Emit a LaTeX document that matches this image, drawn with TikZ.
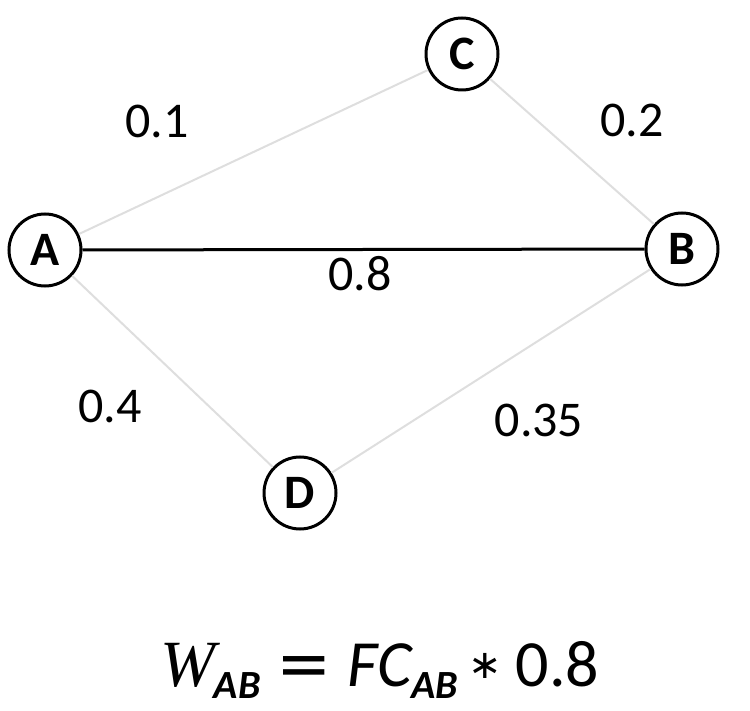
\documentclass[tikz,border=0pt]{standalone}
\usepackage{fontspec}
\setmainfont{Carlito}
\newfontfamily\serifit{Liberation Serif}
\newfontfamily\symfont{DejaVu Sans}
\begin{document}
\begin{tikzpicture}[x=1pt,y=-1pt,
  vtx/.style={circle,draw=black,line width=3pt,fill=white,minimum size=72pt,inner sep=0pt,font=\fontsize{48}{48}\selectfont\bfseries},
  lite/.style={draw=black!13,line width=2pt},
  heavy/.style={draw=black,line width=3pt},
  wlab/.style={font=\fontsize{50}{50}\selectfont}]
\useasboundingbox (0,0) rectangle (750,711);
\node[vtx] (A) at (45,250) {A};
\node[vtx] (B) at (682,249) {B};
\node[vtx] (C) at (462,54) {C};
\node[vtx] (D) at (300,493) {D};
\draw[lite] (A) -- (C);
\draw[lite] (C) -- (B);
\draw[lite] (A) -- (D);
\draw[lite] (D) -- (B);
\draw[heavy] (A) -- (B);
\node[wlab] (l1) at (157,121) {0.1};
\node[wlab] (l2) at (632,120) {0.2};
\node[wlab] (l3) at (360,274) {0.8};
\node[wlab] (l4) at (110,406) {0.4};
\node[wlab] (l5) at (539,420) {0.35};
\node[font=\fontsize{66}{66}\selectfont] (f) at (380,670) {{\serifit\itshape W}\hspace{-2pt}\raisebox{-12pt}{\fontsize{40}{40}\selectfont\bfseries\itshape AB}\hspace{16pt}{\symfont =}\hspace{16pt}\textit{FC}\hspace{-2pt}\raisebox{-12pt}{\fontsize{40}{40}\selectfont\bfseries\itshape AB}\hspace{10pt}\raisebox{8pt}{\fontsize{40}{40}\selectfont\symfont ∗}\hspace{14pt}0.8};
\end{tikzpicture}
\end{document}
